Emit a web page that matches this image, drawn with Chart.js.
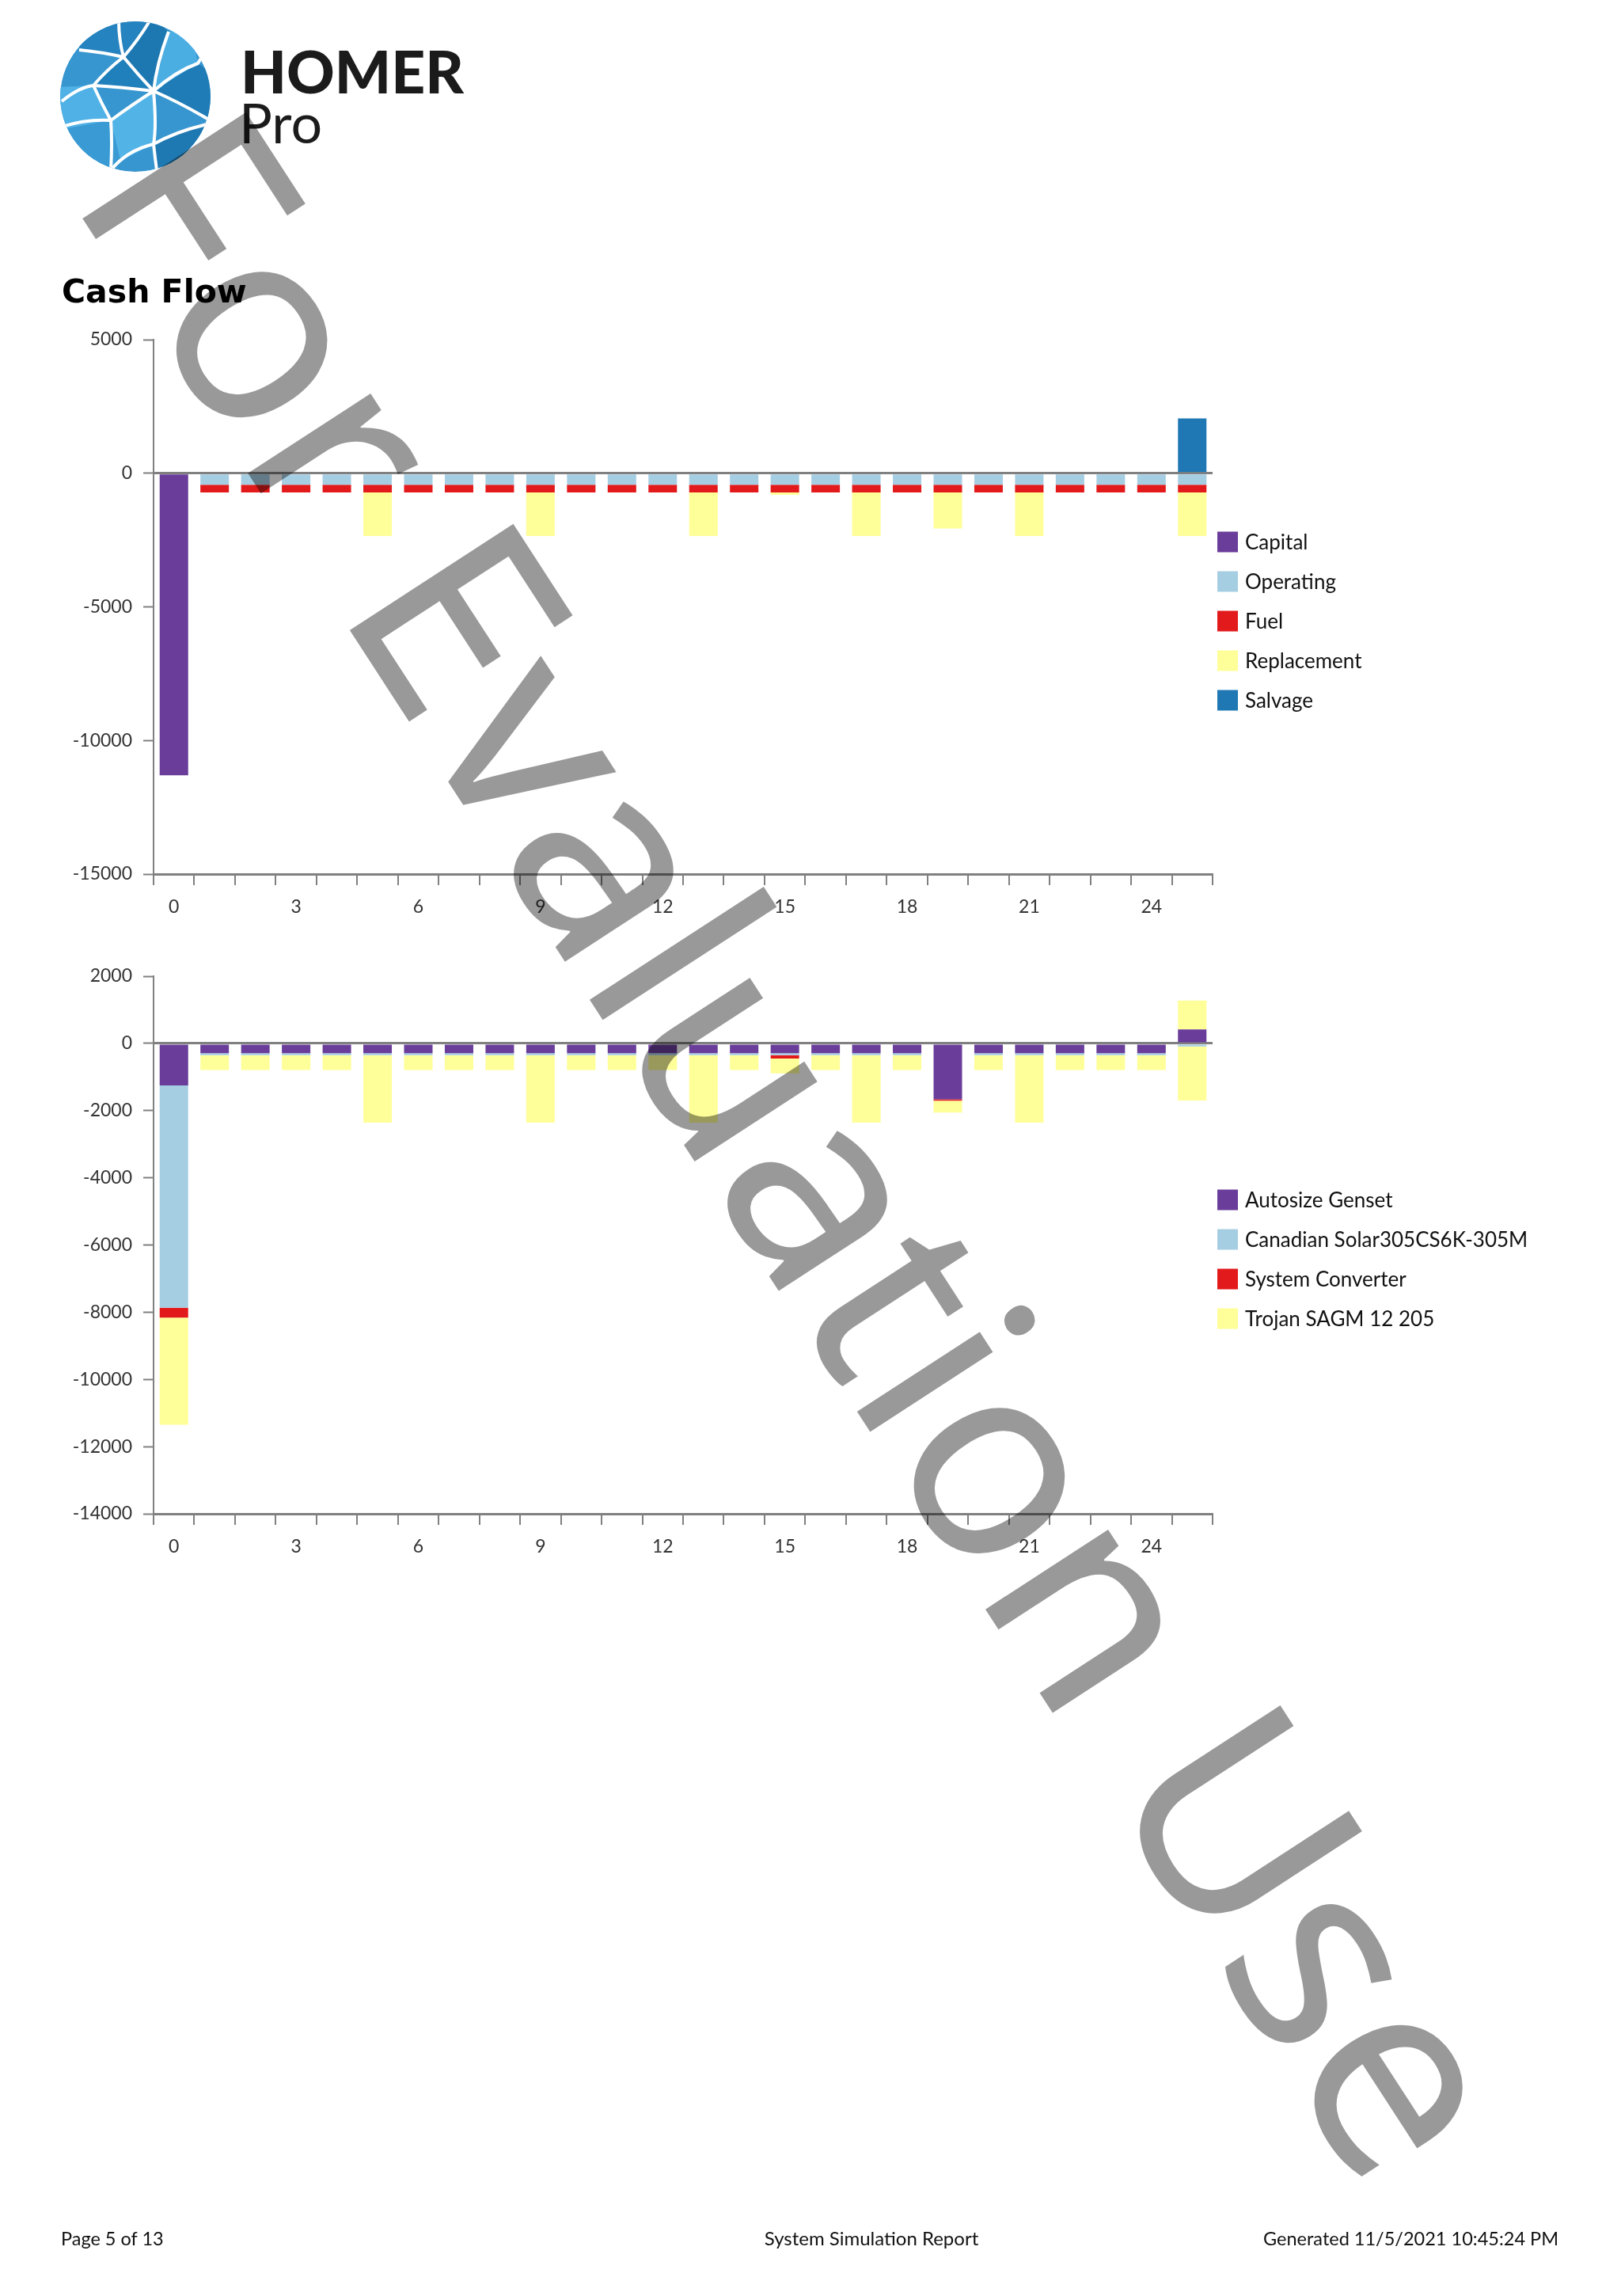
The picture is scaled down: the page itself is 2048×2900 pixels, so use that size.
<!DOCTYPE html>
<html>
<head>
<meta charset="utf-8">
<title>Cash Flow</title>
<script src="https://cdn.jsdelivr.net/npm/chart.js@4.4.1/dist/chart.umd.min.js"></script>
<style>
  body { margin: 0; background: #fff; }
  #page { position: relative; width: 2048px; height: 2900px; overflow: hidden; }
  .chartBox { position: absolute; }
  #overlay { position: absolute; left: 0; top: 0; pointer-events: none; }
</style>
</head>
<body>
<div id="page">
  <div class="chartBox" style="left:60px; top:400px; width:1930px; height:774px;"><canvas id="costTypeChart"></canvas></div>
  <div class="chartBox" style="left:60px; top:1204px; width:1930px; height:778px;"><canvas id="componentChart"></canvas></div>

  <svg id="overlay" width="2048" height="2900" xmlns="http://www.w3.org/2000/svg">
    <defs>
      <clipPath id="globe"><circle cx="171" cy="122" r="95"/></clipPath>
    </defs>
    <!-- logo -->
    <g clip-path="url(#globe)">
      <circle cx="171" cy="122" r="95" fill="#3796cf"/>
      <polygon points="100,20 190,20 156,72 100,63" fill="#2583bf"/>
      <polygon points="156,72 194,115 213,40 190,20" fill="#1d78b2"/>
      <polygon points="213,40 194,115 250,80 240,30" fill="#4aaee3"/>
      <polygon points="250,80 194,115 262,150 280,100" fill="#1f7cb6"/>
      <polygon points="70,110 118,108 140,152 70,165" fill="#4fb1e6"/>
      <polygon points="118,108 156,72 194,115" fill="#2080bb"/>
      <polygon points="140,152 194,115 198,160 194,182 152,203" fill="#52b3e7"/>
      <polygon points="194,182 253,157 280,170 230,230 200,230" fill="#1e78b1"/>
      <polygon points="215,210 260,170 280,190 240,240" fill="#13628f"/>
      <polygon points="70,165 140,152 152,203 130,230 70,230" fill="#3a9bd4"/>
    </g>
    <g fill="none" stroke="#fff" stroke-width="4" clip-path="url(#globe)">
      <path d="M100,63 Q130,66 156,72 Q175,50 190,25"/>
      <path d="M150,25 Q150,50 156,72 Q175,95 194,115"/>
      <path d="M213,40 Q198,80 194,115 Q222,90 250,80 Q262,60 268,50"/>
      <path d="M194,115 Q228,130 262,150"/>
      <path d="M78,128 Q100,110 118,108 Q135,88 156,72"/>
      <path d="M118,108 Q155,110 194,115"/>
      <path d="M118,108 Q128,130 140,152 Q142,180 140,215"/>
      <path d="M78,160 Q110,150 140,152 Q170,130 194,115 Q198,160 194,182 Q196,200 198,215"/>
      <path d="M140,215 Q160,190 194,182 Q225,165 262,157"/>
    </g>
    <text x="304" y="118" font-family="Lato" font-weight="900" font-size="75" fill="#1b1b1b">HOMER</text>
    <text x="302" y="181" font-family="Lato" font-weight="400" font-size="70" fill="#1b1b1b">Pro</text>
    <!-- section title -->
    <text x="78" y="382" font-family="DejaVu Sans" font-weight="bold" font-size="41" fill="#000">Cash Flow</text>
    <!-- footer -->
    <text x="77" y="2836" font-family="Lato" font-size="23.5" fill="#111">Page 5 of 13</text>
    <text x="1101" y="2836" font-family="Lato" font-size="24" fill="#111" text-anchor="middle">System Simulation Report</text>
    <text x="1969" y="2836" font-family="Lato" font-size="23.5" fill="#111" text-anchor="end">Generated 11/5/2021 10:45:24 PM</text>
    <!-- watermark -->
    <text transform="translate(86,248) rotate(57)" font-family="Noto Sans" font-size="345" fill="#000" fill-opacity="0.4">For Evaluation Use</text>
  </svg>
</div>

<script>
// years of the project
const years = ['0','1','2','3','4','5','6','7','8','9','10','11','12','13','14','15','16','17','18','19','20','21','22','23','24','25'];
const shownTicks = ['0','3','6','9','12','15','18','21','24'];

// cash flow by cost type
const capital     = [-11300,0,0,0,0,0,0,0,0,0,0,0,0,0,0,0,0,0,0,0,0,0,0,0,0,0];
const operating   = [0,-430,-430,-430,-430,-430,-430,-430,-430,-430,-430,-430,-430,-430,-430,-430,-430,-430,-430,-430,-430,-430,-430,-430,-430,-430];
const fuel        = [0,-285,-285,-285,-285,-285,-285,-285,-285,-285,-285,-285,-285,-285,-285,-285,-285,-285,-285,-285,-285,-285,-285,-285,-285,-285];
const replacement = [0,0,0,0,0,-1630,0,0,0,-1630,0,0,0,-1630,0,-90,0,-1630,0,-1350,0,-1630,0,0,0,-1630];
const salvage     = [0,0,0,0,0,0,0,0,0,0,0,0,0,0,0,0,0,0,0,0,0,0,0,0,0,2050];

// cash flow by component
const genset    = [-1250,-290,-290,-290,-290,-290,-290,-290,-290,-290,-290,-290,-290,-290,-290,-290,-290,-290,-290,-1663,-290,-290,-290,-290,-290,416];
const solar     = [-6615,-60,-60,-60,-60,-60,-60,-60,-60,-60,-60,-60,-60,-60,-60,-60,-60,-60,-60,0,-60,-60,-60,-60,-60,-90];
const converter = [-295,0,0,0,0,0,0,0,0,0,0,0,0,0,0,-100,0,0,0,-40,0,0,0,0,0,0];
const battery   = [-3190,-440,-440,-440,-440,-2010,-440,-440,-440,-2010,-440,-440,-440,-2010,-440,-440,-440,-2010,-440,-353,-440,-2010,-440,-440,-440,-1610];
const batterySalvage = [0,0,0,0,0,0,0,0,0,0,0,0,0,0,0,0,0,0,0,0,0,0,0,0,0,862];

const PURPLE = '#6a3d9a', LIGHTBLUE = '#a6cee3', RED = '#e31a1c', YELLOW = '#ffff99', BLUE = '#1f78b4';
const GREY = '#808080';
const tickFont = { family: 'Lato', size: 23 };

// legend drawn at the right of the plot, like the report
const sideLegend = {
  id: 'sideLegend',
  afterDraw(chart) {
    const ctx = chart.ctx, a = chart.chartArea;
    const items = chart.data.datasets.filter(d => !d.noLegend);
    const rowH = 50, box = 26;
    let y = (a.top + a.bottom) / 2 + 18 - ((items.length - 1) * rowH + box) / 2;
    ctx.save();
    ctx.font = '26px Lato';
    ctx.textBaseline = 'middle';
    items.forEach(d => {
      ctx.fillStyle = d.backgroundColor;
      ctx.fillRect(a.right + 6, y, box, box);
      ctx.fillStyle = '#111';
      ctx.fillText(d.label, a.right + 41, y + box / 2 + 1);
      y += rowH;
    });
    ctx.restore();
  }
};

function bar(label, data, color, extra) {
  return Object.assign({ label: label, data: data, backgroundColor: color, borderWidth: 0,
    barPercentage: 0.7, categoryPercentage: 1.0 }, extra || {});
}

function options(min, max, step) {
  return {
    responsive: true,
    maintainAspectRatio: false,
    animation: false,
    layout: { padding: { top: 29, right: 458, left: 0, bottom: 0 } },
    plugins: { legend: { display: false }, tooltip: { enabled: false } },
    scales: {
      x: {
        stacked: true,
        offset: true,
        ticks: {
          autoSkip: false, maxRotation: 0, padding: 14, color: '#333', font: tickFont,
          callback: function (v, i) { return shownTicks.includes(years[i]) ? years[i] : ''; }
        },
        grid: { offset: true, drawOnChartArea: false, color: GREY, lineWidth: 2, tickLength: 14 },
        border: { color: GREY, width: 3 },
        afterFit: function (s) { s.height = 70; }
      },
      y: {
        stacked: true,
        min: min, max: max,
        ticks: { stepSize: step, padding: 14, color: '#333', font: tickFont,
          callback: function (v) { return String(v); } },
        grid: {
          color: function (c) { return c.tick && c.tick.value === 0 ? GREY : 'rgba(0,0,0,0)'; },
          lineWidth: 3, tickColor: GREY, tickWidth: 2, tickLength: 13
        },
        border: { color: GREY, width: 2 },
        afterFit: function (s) { s.width = 134; }
      }
    }
  };
}

var ctx1 = document.getElementById('costTypeChart').getContext('2d');
var chart1 = new Chart(ctx1, {
  type: 'bar',
  data: {
    labels: years,
    datasets: [
      bar('Capital', capital, PURPLE),
      bar('Operating', operating, LIGHTBLUE),
      bar('Fuel', fuel, RED),
      bar('Replacement', replacement, YELLOW),
      bar('Salvage', salvage, BLUE)
    ]
  },
  options: options(-15000, 5000, 5000),
  plugins: [sideLegend]
});

var ctx2 = document.getElementById('componentChart').getContext('2d');
var chart2 = new Chart(ctx2, {
  type: 'bar',
  data: {
    labels: years,
    datasets: [
      bar('Autosize Genset', genset, PURPLE),
      bar('Canadian Solar305CS6K-305M', solar, LIGHTBLUE),
      bar('System Converter', converter, RED),
      bar('Trojan SAGM 12 205', battery, YELLOW),
      bar('Trojan SAGM 12 205', batterySalvage, YELLOW, { noLegend: true })
    ]
  },
  options: options(-14000, 2000, 2000),
  plugins: [sideLegend]
});
</script>
</body>
</html>
